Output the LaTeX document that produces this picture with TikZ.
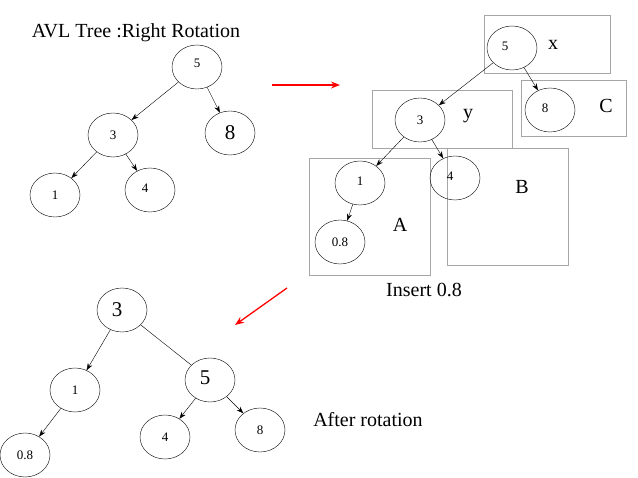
\documentclass[tikz,border=0pt]{standalone}
\usepackage{fontspec}
\setmainfont{Liberation Serif}
\usetikzlibrary{shapes.geometric,arrows.meta}
\begin{document}
\begin{tikzpicture}[x=1pt,y=-1pt,
 nd/.style={ellipse,draw,minimum width=50pt,minimum height=44pt,inner sep=0pt,font=\fontsize{13}{15}\selectfont},
 big/.style={font=\fontsize{21}{24}\selectfont},
 lbl/.style={font=\fontsize{20}{24}\selectfont},
 ar/.style={-{Stealth[length=7pt,width=5pt]}},
 red/.style={draw=red,line width=1.3pt,-{Stealth[length=9pt,width=7pt]}},
 box/.style={draw=gray!70}]
\useasboundingbox (0,0) rectangle (638,478);
\node[lbl] (t) at (136,33) {AVL Tree :Right Rotation};
\node[nd] (a5) at (197,67) {\raisebox{8pt}{5}};
\node[nd] (a3) at (113,135) {3};
\node[nd,big] (a8) at (230,133) {8};
\node[nd] (a1) at (55,195) {1};
\node[nd] (a4) at (150,190) {\raisebox{4pt}{\hspace{-10pt}4}};
\draw[ar] (a5) -- (a3); \draw[ar] (a5) -- (a8);
\draw[ar] (a3) -- (a1); \draw[ar] (a3) -- (a4);
\coordinate (r1) at (272,85); \coordinate (r2) at (340,85);
\draw[red] (r1) -- (r2);
\draw[box] (484,15) rectangle (610,73);
\draw[box] (372,90) rectangle (512,148);
\draw[box] (521,80) rectangle (626,136);
\draw[box] (309,158) rectangle (430,275);
\draw[box] (447,148) rectangle (568,265);
\node[nd] (b5) at (512,48) {\hspace{-14pt}\raisebox{4pt}{5}};
\node[lbl] (bx) at (553,45) {x};
\node[nd] (b3) at (420,120) {3};
\node[lbl] (by) at (468,116) {y};
\node[nd] (b8) at (550,110) {\hspace{-10pt}\raisebox{4pt}{8}};
\node[lbl] (bc) at (606,106) {C};
\node[nd] (b1) at (360,183) {\raisebox{4pt}{1}};
\node[nd] (b4) at (455,178) {\raisebox{4pt}{\hspace{-10pt}4}};
\node[nd] (b08) at (340,242) {0.8};
\node[lbl] (ba) at (400,225) {A};
\node[lbl] (bb) at (522,187) {B};
\node[lbl] (ins) at (424,290) {Insert 0.8};
\draw[ar] (b5) -- (b3); \draw[ar] (b5) -- (b8);
\draw[ar] (b3) -- (b1); \draw[ar] (b3) -- (b4);
\draw[ar] (b1) -- (b08);
\coordinate (r3) at (287,288); \coordinate (r4) at (235,325);
\draw[red] (r3) -- (r4);
\node[nd,big] (c3) at (122,310) {\raisebox{-4pt}{\hspace{-10pt}3}};
\node[nd] (c1) at (75,390) {1};
\node[nd,big] (c5) at (210,380) {\raisebox{4pt}{\hspace{-10pt}5}};
\node[nd] (c4) at (165,437) {4};
\node[nd] (c8) at (260,430) {8};
\node[nd] (c08) at (25,455) {0.8};
\node[lbl] (ar) at (368,420) {After rotation};
\draw[ar] (c3) -- (c1); \draw (c3) -- (c5);
\draw[ar] (c1) -- (c08);
\draw[ar] (c5) -- (c4); \draw[ar] (c5) -- (c8);
\end{tikzpicture}
\end{document}
